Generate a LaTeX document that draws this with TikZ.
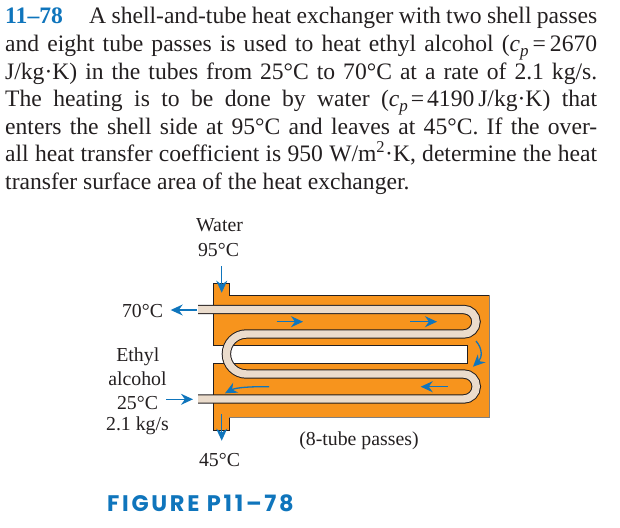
\documentclass[tikz,border=0pt]{standalone}
\usepackage{fontspec}
\setmainfont{Liberation Serif}
\newfontfamily\figfont[LetterSpace=12]{Poppins}
\usetikzlibrary{arrows.meta}
\definecolor{shellorange}{HTML}{F7941D}
\definecolor{tubebeige}{HTML}{EBDCCC}
\definecolor{flowblue}{HTML}{0F75BC}
\definecolor{inkdark}{HTML}{231F20}
\newcommand{\cpsym}{\textit{c}\raisebox{-.45ex}{\fontsize{17}{17}\selectfont\textit{p}}}
\tikzset{
textline/.style={anchor=base west, inner sep=0pt, font=\fontsize{23.6}{27}\selectfont, text=inkdark}, % the problem text
label/.style={anchor=base, inner sep=0pt, font=\fontsize{19.8}{24}\selectfont, text=inkdark}, % text round the exchanger
flow/.style={flowblue, line width=1.3pt, -{Stealth[length=12pt,width=11pt]}}, % blue arrows
tubepipe/.style={draw=inkdark, line width=1pt, double=tubebeige, double distance=7.4pt},
}
\begin{document}
\begin{tikzpicture}[x=1pt, y=-1pt]
                \useasboundingbox (0,0) rectangle (620,527);
                % problem text
                \node[textline, text=flowblue, font=\fontsize{23.6}{27}\selectfont\bfseries] (num) at (5,24) {11–78};
                \node[textline] (line1) at (89,24) {\makebox[508pt][s]{A shell-and-tube heat exchanger with two shell passes}};
                \node[textline] (line2) at (5,51.5) {\makebox[592pt][s]{and eight tube passes is used to heat ethyl alcohol (\cpsym\kern4pt=\kern4pt2670}};
                \node[textline] (line3) at (5,79) {\makebox[592pt][s]{J/kg·K) in the tubes from 25°C to 70°C at a rate of 2.1 kg/s.}};
                \node[textline] (line4) at (5,106.5) {\makebox[592pt][s]{The heating is to be done by water (\cpsym\kern3pt=\kern3pt4190\,J/kg·K) that}};
                \node[textline] (line5) at (5,134) {\makebox[592pt][s]{enters the shell side at 95°C and leaves at 45°C. If the over-}};
                \node[textline] (line6) at (5,161.5) {\makebox[592pt][s]{all heat transfer coefficient is 950 W/m\textsuperscript{2}·K, determine the heat}};
                \node[textline] (line7) at (5,189) {transfer surface area of the heat exchanger.};
                % shell
                \fill[shellorange] (213,283) -- (229,283) -- (229,295) -- (489,295) -- (489,417.5) -- (229,417.5) -- (229,430) -- (213,430) -- cycle;
                \fill[white] (205,345) rectangle (467,363);
                \draw[inkdark, line width=1pt] (213,345) -- (213,283) -- (229,283) -- (229,295) -- (489,295);
                \draw[inkdark, line width=1pt] (213,363) -- (213,430) -- (229,430) -- (229,417.5);
                \draw[gray, line width=.8pt] (229,417.5) -- (489,417.5) -- (489,295);
                \draw[inkdark, line width=.8pt] (213,345) -- (467,345) -- (467,363) -- (213,363);
                % tube
                \draw[tubepipe] (198,309.5) -- (463.75,309.5) arc (-90:90:12.25) -- (246.4,334) arc (-90:-270:20) -- (463.75,374) arc (-90:90:12.5) -- (198,399);
                % labels
                \node[label] (water) at (219.5,231.7) {Water};
                \node[label] (hotin) at (218.5,256) {95°C};
                \node[label] (coldout) at (142.5,317.3) {70°C};
                \node[label] (ethyl) at (137.8,361.7) {Ethyl};
                \node[label] (alcohol) at (137.5,385) {alcohol};
                \node[label] (coldin) at (137.5,409) {25°C};
                \node[label] (rate) at (137.5,430.7) {2.1 kg/s};
                \node[label] (hotout) at (219.5,466) {45°C};
                \node[label] (passes) at (359,445) {(8-tube passes)};
                \node[anchor=base west, inner sep=0pt, text=flowblue, font=\figfont\fontsize{22.5}{25}\selectfont\bfseries] (caption) at (107,511.7) {FIGURE P11–78};
                % flow arrows
                \draw[flow] (221.7,266) -- (221.7,292.7);
                \draw[flow] (197,310) -- (170.7,310);
                \draw[flow] (166,399.3) -- (193,399.3);
                \draw[flow] (221.7,414) -- (221.7,440.7);
                \draw[flow] (276.7,321.7) -- (303,321.7);
                \draw[flow] (410,321.7) -- (437,321.7);
                \draw[flow] (476,341) .. controls (483,349) and (482,358) .. (473,366.7);
                \draw[flow] (447.7,386.7) -- (420.7,386.7);
                \draw[flow] (269,386.7) .. controls (250,386.5) and (236,387.5) .. (225,393.3);
                \end{tikzpicture}
\end{document}
